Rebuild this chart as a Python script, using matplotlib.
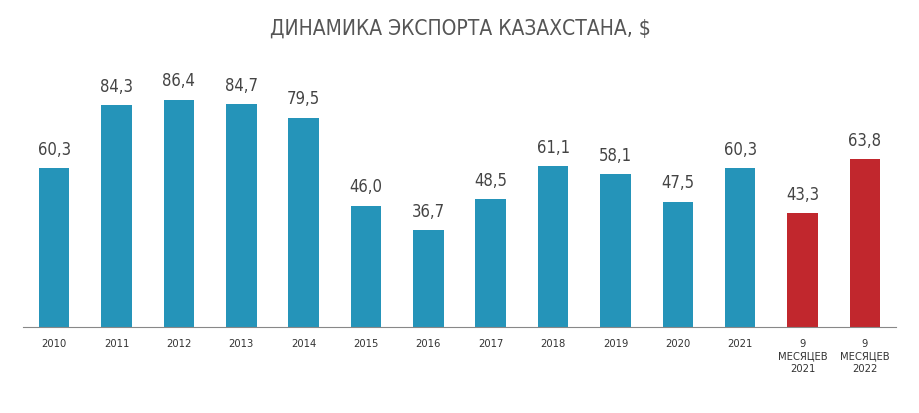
import numpy as np
import matplotlib
matplotlib.use("Agg")
import matplotlib.pyplot as plt

plt.rcParams["font.family"] = ["Liberation Sans Narrow", "DejaVu Sans"]
plt.rcParams["font.stretch"] = "condensed"

categories = ["2010", "2011", "2012", "2013", "2014", "2015", "2016", "2017",
              "2018", "2019", "2020", "2021", "9\nМЕСЯЦЕВ\n2021", "9\nМЕСЯЦЕВ\n2022"]
values = [60.3, 84.3, 86.4, 84.7, 79.5, 46.0, 36.7, 48.5, 61.1, 58.1, 47.5, 60.3, 43.3, 63.8]
labels = ["60,3", "84,3", "86,4", "84,7", "79,5", "46,0", "36,7", "48,5",
          "61,1", "58,1", "47,5", "60,3", "43,3", "63,8"]

blue = "#2594b9"
red = "#c1272d"
colors = [blue] * 12 + [red] * 2

fig = plt.figure(figsize=(9.2, 4.14), dpi=100)
ax = fig.add_axes([0.025, 0.208, 0.949, 0.635])
x = np.arange(len(values))
ax.bar(x, values, width=0.49, color=colors)
for xi, v, lab in zip(x, values, labels):
    ax.text(xi, v + 4, lab, ha="center", va="bottom", fontsize=12, color="#444444")
ax.set_xlim(-0.5, len(values) - 0.5)
ax.set_ylim(0, 100)
ax.set_xticks(x)
ax.set_xticklabels(categories, fontsize=8, color="#333333", linespacing=1.3)
ax.tick_params(axis="x", length=0, pad=8)
ax.set_yticks([])
for s in ["top", "right", "left"]:
    ax.spines[s].set_visible(False)
ax.spines["bottom"].set_color("#888888")
fig.text(0.5, 0.93, "ДИНАМИКА ЭКСПОРТА КАЗАХСТАНА, $", ha="center", va="center",
         fontsize=15, color="#555555")
fig.savefig("out.png", dpi=100)
